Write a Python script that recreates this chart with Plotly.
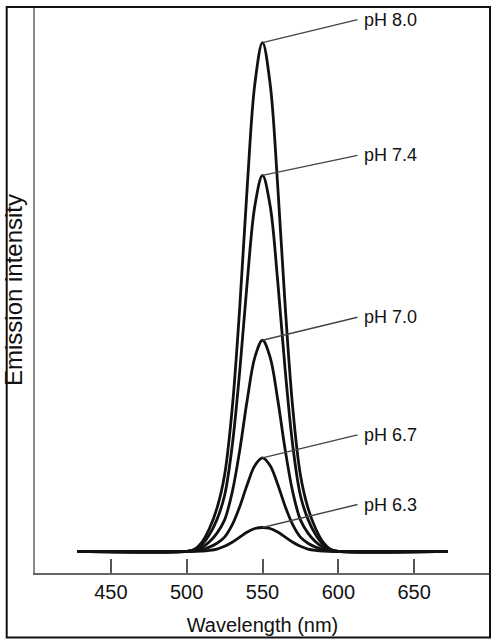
import plotly.graph_objects as go

# ---- data ----
wavelength = [428, 500, 505, 510, 515, 520, 525, 530, 535, 540, 545, 550,
              555, 560, 565, 570, 575, 580, 585, 590, 595, 600, 672]
ph_labels = ["pH 8.0", "pH 7.4", "pH 7.0", "pH 6.7", "pH 6.3"]
ph80 = [0, 0, 0.4, 1.8, 4.5, 8.5, 15, 28, 48, 72, 92, 100, 92, 72, 48, 28, 15, 8.5, 4.5, 1.8, 0.4, 0, 0]
ph74 = [0, 0, 0.3, 1.3, 3.3, 6.3, 11.0, 20.7, 35.5, 53.2, 68.0, 73.9, 68.0, 53.2, 35.5,
        20.7, 11.0, 6.3, 3.3, 1.3, 0.3, 0, 0]
ph70 = [0, 0, 0.17, 0.75, 1.9, 3.6, 6.2, 11.6, 19.9, 29.9, 38.2, 41.5, 38.2, 29.9, 19.9,
        11.6, 6.2, 3.6, 1.9, 0.75, 0.17, 0, 0]
ph67 = [0, 0, 0.07, 0.33, 0.85, 1.6, 2.8, 5.2, 8.8, 13.2, 16.9, 18.4, 16.9, 13.2, 8.8,
        5.2, 2.8, 1.6, 0.85, 0.33, 0.07, 0, 0]
ph63 = [0, 0, 0.02, 0.07, 0.21, 0.47, 1.0, 1.8, 2.8, 3.8, 4.5, 4.7, 4.5, 3.8, 2.8,
        1.8, 1.0, 0.47, 0.21, 0.07, 0.02, 0, 0]
x_ticks = [450, 500, 550, 600, 650]

series = [ph80, ph74, ph70, ph67, ph63]
label_dy = [-23, -20, -23, -23, -23]

FONT = "Liberation Sans, Arial, Helvetica, sans-serif"

fig = go.Figure()
for name, ys in zip(ph_labels, series):
    fig.add_trace(go.Scatter(
        x=wavelength, y=ys, mode="lines", name=name,
        line=dict(color="#111111", width=2.8, shape="spline", smoothing=1.0),
        showlegend=False, hoverinfo="skip"))

for name, ys, dy in zip(ph_labels, series, label_dy):
    peak = max(ys)
    px = wavelength[ys.index(peak)]
    fig.add_annotation(
        x=px, y=peak, xref="x", yref="y", text=name,
        showarrow=True, arrowhead=0, arrowwidth=1.4, arrowcolor="#444444",
        ax=95, ay=dy, xanchor="left", yanchor="middle", borderpad=5,
        font=dict(family=FONT, size=18, color="#111111"))

# outer frame
fig.add_shape(type="rect", xref="paper", yref="paper",
              x0=-0.0622, x1=1.0, y0=-0.1138, y1=1.0,
              line=dict(color="#111111", width=2), layer="above")

fig.update_layout(
    width=496, height=644,
    margin=dict(l=35, r=6, t=7, b=71),
    paper_bgcolor="white", plot_bgcolor="white",
    font=dict(family=FONT, color="#111111"),
    xaxis=dict(range=[400, 700], tickvals=x_ticks, ticktext=[str(v) for v in x_ticks],
               ticks="inside", ticklen=14, tickwidth=1.5, tickcolor="#555555",
               showline=True, linecolor="#666666", linewidth=1.5,
               showgrid=False, zeroline=False,
               tickfont=dict(size=20, family=FONT, color="#111111"),
               title=dict(text="Wavelength (nm)", font=dict(size=20, family=FONT, color="#111111"),
                          standoff=16)),
    yaxis=dict(range=[-4.24, 107], showticklabels=False, ticks="",
               showline=True, linecolor="#888888", linewidth=2,
               showgrid=False, zeroline=False,
               title=dict(text="Emission intensity", font=dict(size=24, family=FONT, color="#111111"),
                          standoff=6)),
)

fig.write_html("out.html")
